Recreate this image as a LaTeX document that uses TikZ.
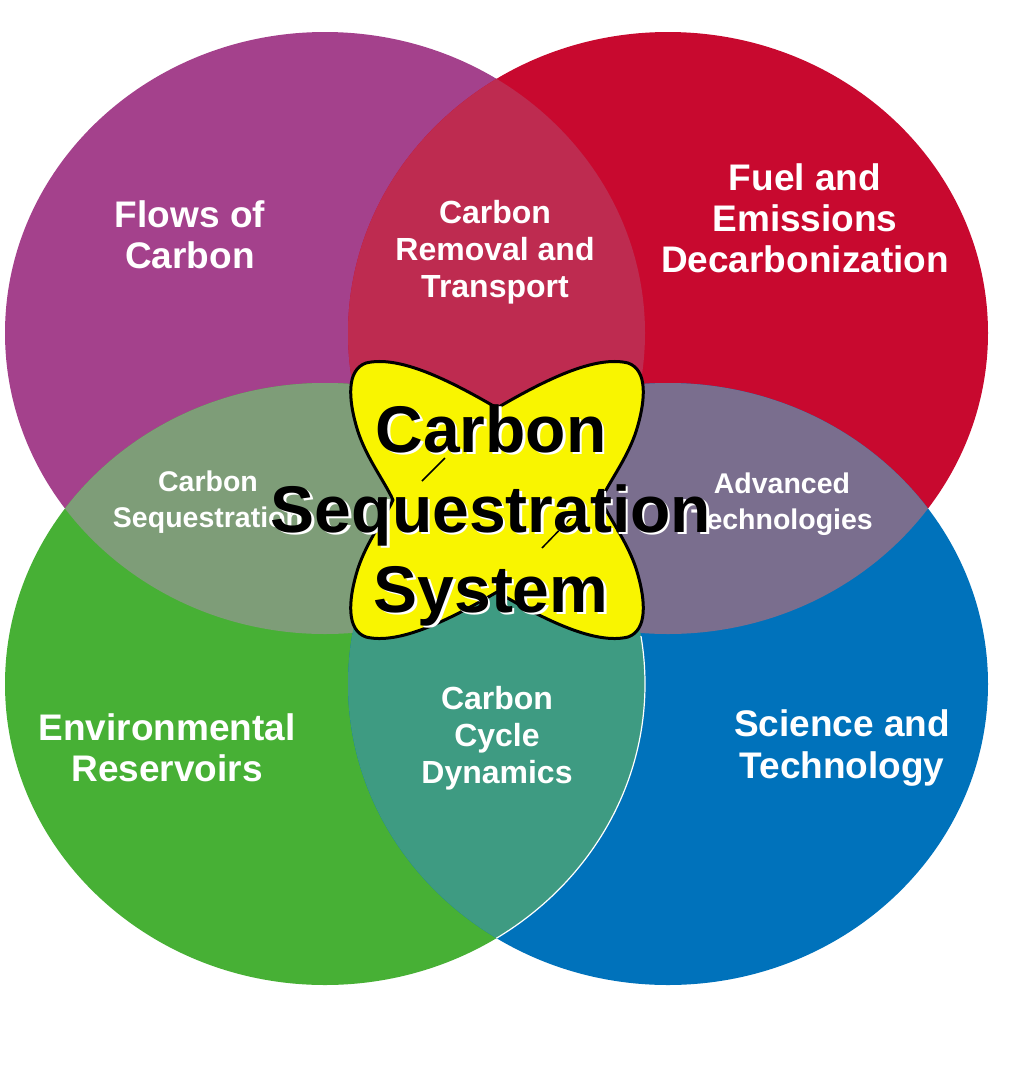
\documentclass[tikz,border=0pt]{standalone}
\usepackage{fontspec}
\setmainfont{Liberation Sans}
\definecolor{cpurple}{RGB}{164,65,140}
\definecolor{cred}{RGB}{200,9,47}
\definecolor{cgreen}{RGB}{71,176,53}
\definecolor{cblue}{RGB}{0,114,187}
\definecolor{ltop}{RGB}{190,43,80}
\definecolor{lleft}{RGB}{126,157,120}
\definecolor{lright}{RGB}{122,110,142}
\definecolor{lbottom}{RGB}{62,155,130}
\definecolor{byellow}{RGB}{249,245,0}
\begin{document}
\begin{tikzpicture}[x=1pt,y=-1pt,
  lbl/.style={text=white,align=center,inner sep=0pt},
  biglbl/.style={lbl,font=\bfseries\fontsize{37}{41}\selectfont},
  midlbl/.style={lbl,font=\bfseries\fontsize{32}{37}\selectfont},
  smalllbl/.style={lbl,font=\bfseries\fontsize{28.5}{36}\selectfont},
  ctext/.style={align=center,inner sep=0pt,font=\bfseries\fontsize{66}{80}\selectfont},
  er/.style={x radius=320pt,y radius=301pt}]
\useasboundingbox[fill=white] (0,0) rectangle (1012,1080);
% base circles
\fill[cpurple] (325,333) ellipse [er];
\fill[cred] (668,333) ellipse [er];
\fill[cgreen] (325,684) ellipse [er];
\fill[cblue] (668,684) ellipse [er];
% lenses
\begin{scope}
  \clip (325,333) ellipse [er];
  \fill[ltop] (668,333) ellipse [er];
\end{scope}
\begin{scope}
  \clip (325,333) ellipse [er];
  \fill[lleft] (325,684) ellipse [er];
\end{scope}
\begin{scope}
  \clip (668,333) ellipse [er];
  \fill[lright] (668,684) ellipse [er];
\end{scope}
\begin{scope}
  \clip (325,684) ellipse [er];
  \fill[lbottom] (668,684) ellipse [er];
\end{scope}
% central region split into wedges
\begin{scope}
  \clip (325,333) ellipse [er];
  \clip (668,333) ellipse [er];
  \clip (325,684) ellipse [er];
  \clip (668,684) ellipse [er];
  \fill[ltop] (497,509) -- (203,261) -- (789,261) -- cycle;
  \fill[lright] (497,509) -- (789,261) -- (789,757) -- cycle;
  \fill[lbottom] (497,509) -- (789,757) -- (203,757) -- cycle;
  \fill[lleft] (497,509) -- (203,757) -- (203,261) -- cycle;
\end{scope}
% white edge line of the bottom lens
\begin{scope}
  \clip (668,684) ellipse [er];
  \clip (0,636) rectangle (1012,1080);
  \draw[white,line width=1.2pt] (325,684) ellipse [er];
\end{scope}
% butterfly
\draw[fill=byellow,line width=3pt,line join=round]
  (497,408) .. controls (545,380) and (595,355) .. (628,363)
  .. controls (648,370) and (645,400) .. (638,425)
  .. controls (630,455) and (610,480) .. (601,500)
  .. controls (610,520) and (630,545) .. (638,575)
  .. controls (645,600) and (648,630) .. (628,637)
  .. controls (595,645) and (545,620) .. (497,592)
  .. controls (449,620) and (399,645) .. (366,637)
  .. controls (346,630) and (349,600) .. (356,575)
  .. controls (364,545) and (384,520) .. (393,500)
  .. controls (384,480) and (364,455) .. (356,425)
  .. controls (349,400) and (346,370) .. (366,363)
  .. controls (399,355) and (449,380) .. (497,408) -- cycle;
\draw[line width=1.5pt] (422,481) -- (445,458);
\draw[line width=1.5pt] (542,548) -- (572,517);
% labels
\node[biglbl] (flows) at (190,235) {Flows of\\Carbon};
\node[midlbl] (removal) at (495,252) {Carbon\\Removal and\\Transport};
\node[biglbl] (fuel) at (805,218) {Fuel and\\Emissions\\Decarbonization};
\node[smalllbl] (seq) at (208,502) {Carbon\\Sequestration};
\node[smalllbl] (adv) at (782,504) {Advanced\\Technologies};
\node[biglbl] (env) at (167,748) {Environmental\\Reservoirs};
\node[midlbl] (cycle) at (497,738) {Carbon\\Cycle\\Dynamics};
\node[biglbl,font=\bfseries\fontsize{37}{42}\selectfont] (sci) at (842,748) {Science and\\Technology};
% central title with white shadow
\node[ctext,text=white] (titleshadow) at (493.5,517.5) {Carbon\\Sequestration\\System};
\node[ctext] (title) at (491,515) {Carbon\\Sequestration\\System};
\end{tikzpicture}
\end{document}
